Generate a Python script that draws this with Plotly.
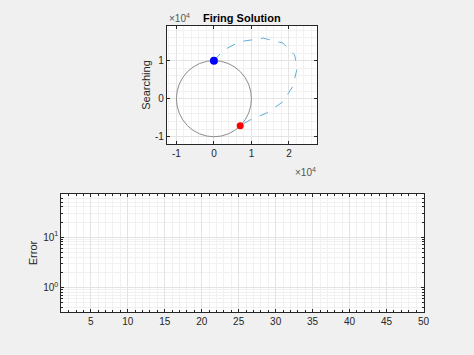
import plotly.graph_objects as go

# ---- data ----
planet_radius = 10000
start_point = [0, 10000]          # blue marker
target_point = [7000, -7100]      # red marker
arc_x = [0, 2600, 7000, 13200, 18400, 21500, 22200, 21000, 18400, 14000, 9600, 7000]
arc_y = [10000, 12800, 15000, 15900, 14600, 11500, 8000, 3200, -800, -3800, -5600, -7100]
err_x = []
err_y = []

top_xticks = [-10000, 0, 10000, 20000]
top_xtext = ["-1", "0", "1", "2"]
top_yticks = [-10000, 0, 10000]
top_ytext = ["-1", "0", "1"]
bot_xticks = [5, 10, 15, 20, 25, 30, 35, 40, 45, 50]
bot_yticks = [1, 10]
bot_ytext = ["10<sup>0</sup>", "10<sup>1</sup>"]
bot_yminor = [0.4, 0.5, 0.6, 0.7, 0.8, 0.9, 2, 3, 4, 5, 6, 7, 8, 9, 20, 30, 40, 50, 60, 70]

FONT = "Liberation Sans, Arial, sans-serif"
AX = "#262626"
GRID = "#e3e3e3"
MINOR = "#f1f1f1"

fig = go.Figure()

fig.add_trace(go.Scatter(x=arc_x, y=arc_y, mode="lines",
                         line=dict(color="#5fb0dc", width=1, dash="dash"),
                         xaxis="x", yaxis="y", showlegend=False, hoverinfo="skip"))
fig.add_trace(go.Scatter(x=[start_point[0]], y=[start_point[1]], mode="markers",
                         marker=dict(color="#0000ff", size=8),
                         xaxis="x", yaxis="y", showlegend=False))
fig.add_trace(go.Scatter(x=[target_point[0]], y=[target_point[1]], mode="markers",
                         marker=dict(color="#ff0000", size=7),
                         xaxis="x", yaxis="y", showlegend=False))
fig.add_trace(go.Scatter(x=err_x, y=err_y, mode="lines",
                         xaxis="x2", yaxis="y2", showlegend=False))

fig.add_shape(type="circle", xref="x", yref="y",
              x0=-planet_radius, y0=-planet_radius, x1=planet_radius, y1=planet_radius,
              line=dict(color="#8c8c8c", width=1), layer="between")

common = dict(showline=True, linecolor=AX, linewidth=1, mirror="ticks",
              ticks="inside", ticklen=3, tickcolor=AX, showgrid=True,
              gridcolor=GRID, gridwidth=1, zeroline=False,
              tickfont=dict(family=FONT, size=10, color=AX))

fig.update_layout(
    width=474, height=355,
    margin=dict(l=0, r=0, t=0, b=0),
    paper_bgcolor="#f0f0f0", plot_bgcolor="#ffffff",
    font=dict(family=FONT, color=AX),
    xaxis=dict(domain=[0.3565, 0.6772], range=[-12550, 27450],
               tickvals=top_xticks, ticktext=top_xtext, anchor="y",
               minor=dict(dtick=2000, tick0=0, showgrid=True, gridcolor=MINOR, ticks=""),
               **common),
    yaxis=dict(domain=[0.5944, 0.9268], range=[-11900, 19100],
               tickvals=top_yticks, ticktext=top_ytext, anchor="x",
               minor=dict(dtick=2000, tick0=0, showgrid=True, gridcolor=MINOR, ticks=""),
               title=dict(text="Searching", font=dict(family=FONT, size=11, color=AX), standoff=2),
               **common),
    xaxis2=dict(domain=[0.1308, 0.905], range=[1, 50],
                tickvals=bot_xticks, anchor="y2",
                minor=dict(dtick=1, tick0=0, showgrid=True, gridcolor=MINOR, ticks="inside",
                           ticklen=2, tickcolor=AX),
                **common),
    yaxis2=dict(domain=[0.1211, 0.4535], type="log", range=[-0.494, 1.86],
                tickvals=bot_yticks, ticktext=bot_ytext, anchor="x2",
                minor=dict(tickmode="array", tickvals=bot_yminor, showgrid=True,
                           gridcolor=MINOR, ticks="inside", ticklen=2, tickcolor=AX),
                title=dict(text="Error", font=dict(family=FONT, size=11, color=AX), standoff=3),
                **common),
    annotations=[
        dict(text="<b>Firing Solution</b>", xref="paper", yref="paper",
             x=245 / 474, y=1 - 18 / 355, showarrow=False,
             font=dict(family=FONT, size=11, color="#000000"),
             xanchor="center", yanchor="middle"),
        dict(text="×10<sup>4</sup>", xref="paper", yref="paper",
             x=169 / 474, y=1 - 18 / 355, showarrow=False,
             font=dict(family=FONT, size=10, color="#555555"),
             xanchor="left", yanchor="middle"),
        dict(text="×10<sup>4</sup>", xref="paper", yref="paper",
             x=322 / 474, y=1 - 172 / 355, showarrow=False,
             font=dict(family=FONT, size=10, color="#555555"),
             xanchor="right", yanchor="middle"),
    ],
)

fig.write_html("out.html")
